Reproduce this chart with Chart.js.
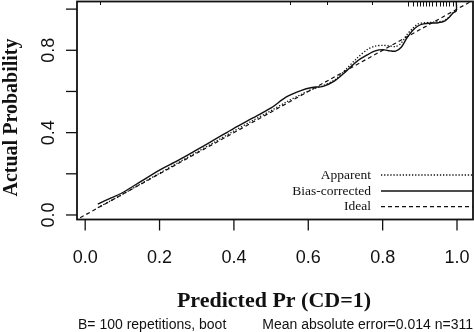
<!DOCTYPE html>
<html>
<head>
<meta charset="utf-8">
<script src="https://cdn.jsdelivr.net/npm/chart.js@4.4.0/dist/chart.umd.min.js"></script>
<style>
  html, body { margin: 0; padding: 0; background: #fff; }
</style>
</head>
<body>
<canvas id="calChart" width="474" height="332"></canvas>
<script>
// ---- data ----
const xTicks = [0, 0.2, 0.4, 0.6, 0.8, 1.0];
const xTickLabels = ['0.0', '0.2', '0.4', '0.6', '0.8', '1.0'];
const yTicks = [0, 0.2, 0.4, 0.6, 0.8, 1.0];
const yTickLabels = ['0.0', '', '0.4', '', '0.8', ''];

const seriesNames = ['Apparent', 'Bias-corrected', 'Ideal'];

const apparentX = [0.034, 0.07, 0.1, 0.15, 0.2, 0.25, 0.3, 0.35, 0.4, 0.45, 0.5, 0.54, 0.58, 0.61, 0.64, 0.67, 0.7, 0.73, 0.76, 0.78, 0.8, 0.82, 0.835, 0.85, 0.865, 0.88, 0.895, 0.91, 0.93, 0.95, 0.965, 0.98, 0.99, 0.998];
const apparentY = [0.036, 0.07, 0.1, 0.152, 0.203, 0.254, 0.305, 0.356, 0.408, 0.458, 0.507, 0.548, 0.585, 0.61, 0.628, 0.655, 0.705, 0.76, 0.805, 0.82, 0.824, 0.821, 0.818, 0.835, 0.875, 0.905, 0.928, 0.933, 0.936, 0.939, 0.944, 0.965, 0.985, 0.996];

const biasX = [0.034, 0.07, 0.1, 0.15, 0.2, 0.25, 0.3, 0.35, 0.4, 0.45, 0.5, 0.54, 0.58, 0.61, 0.64, 0.67, 0.7, 0.73, 0.76, 0.78, 0.8, 0.82, 0.835, 0.85, 0.865, 0.88, 0.895, 0.91, 0.93, 0.95, 0.965, 0.98, 0.99, 0.998, 0.998];
const biasY = [0.053, 0.083, 0.108, 0.163, 0.218, 0.265, 0.316, 0.368, 0.421, 0.47, 0.52, 0.572, 0.604, 0.619, 0.625, 0.65, 0.695, 0.745, 0.779, 0.797, 0.803, 0.797, 0.796, 0.815, 0.859, 0.895, 0.918, 0.928, 0.932, 0.934, 0.94, 0.962, 0.982, 0.992, 1.04];

const idealX = [-0.03, 1.05];
const idealY = [-0.03, 1.05];

// distribution of predicted probabilities (rug on top)
const rugX = [0.04, 0.551, 0.65, 0.771, 0.868, 0.882, 0.892, 0.9, 0.909, 0.917, 0.925, 0.934, 0.944, 0.953, 0.962, 0.97, 0.979, 0.989];

const subLeft = 'B= 100 repetitions, boot';
const subRight = 'Mean absolute error=0.014 n=311';

function toPoints(xs, ys) {
    return xs.map(function (x, i) { return { x: x, y: ys[i] }; });
}

const ink = '#111';
const serif = '"Liberation Serif", "Times New Roman", serif';
const sans = '"Liberation Sans", Arial, sans-serif';

// R style axes, box, legend and rug, placed through the chart scales
const rPlotDecor = {
    id: 'rPlotDecor',
    afterDraw: function (chart) {
        const ctx = chart.ctx;
        const area = chart.chartArea;
        const xs = chart.scales.x;
        const ys = chart.scales.y;
        ctx.save();
        ctx.strokeStyle = ink;
        ctx.fillStyle = ink;

        // box
        ctx.lineWidth = 1.8;
        ctx.setLineDash([]);
        ctx.strokeRect(area.left, area.top, area.right - area.left, area.bottom - area.top);

        // rug ticks along top
        ctx.lineWidth = 1;
        rugX.forEach(function (v) {
            const px = Math.round(xs.getPixelForValue(v)) + 0.5;
            ctx.beginPath();
            ctx.moveTo(px, area.top);
            ctx.lineTo(px, area.top + (v > 0.86 ? 5 : 3.5));
            ctx.stroke();
        });

        // x ticks + labels
        ctx.lineWidth = 1.3;
        ctx.font = '18px ' + sans;
        ctx.textAlign = 'center';
        ctx.textBaseline = 'alphabetic';
        xTicks.forEach(function (v, i) {
            const px = xs.getPixelForValue(v);
            ctx.beginPath();
            ctx.moveTo(px, area.bottom);
            ctx.lineTo(px, area.bottom + 11);
            ctx.stroke();
            ctx.fillText(xTickLabels[i], px, 263);
        });

        // y ticks + rotated labels
        yTicks.forEach(function (v, i) {
            const py = ys.getPixelForValue(v);
            ctx.beginPath();
            ctx.moveTo(area.left, py);
            ctx.lineTo(area.left - 11, py);
            ctx.stroke();
            if (yTickLabels[i]) {
                ctx.save();
                ctx.translate(53.5, py);
                ctx.rotate(-Math.PI / 2);
                ctx.fillText(yTickLabels[i], 0, 0);
                ctx.restore();
            }
        });

        // axis titles
        ctx.font = 'bold 22px ' + serif;
        ctx.fillText('Predicted Pr (CD=1)', 274, 306.5);
        ctx.save();
        ctx.font = 'bold 20px ' + serif;
        ctx.translate(17, 117.5);
        ctx.rotate(-Math.PI / 2);
        ctx.fillText('Actual Probability', 0, 0);
        ctx.restore();

        // subtitle line
        ctx.font = '14px ' + sans;
        ctx.textAlign = 'left';
        ctx.fillText(subLeft, 78, 328.5);
        ctx.textAlign = 'right';
        ctx.fillText(subRight, 473, 328.5);

        // legend
        const legendRows = [175, 191, 206.7];
        ctx.font = '13.5px ' + serif;
        chart.data.datasets.forEach(function (ds, i) {
            const ly = legendRows[i];
            ctx.textAlign = 'right';
            ctx.fillText(seriesNames[i], 371, ly + 3.5);
            ctx.beginPath();
            ctx.lineWidth = ds.borderWidth;
            ctx.setLineDash(ds.borderDash || []);
            ctx.moveTo(381, ly);
            ctx.lineTo(area.right, ly);
            ctx.stroke();
        });
        ctx.restore();
    }
};

const ctx = document.getElementById('calChart');
new Chart(ctx, {
    type: 'line',
    data: {
        datasets: [{
            label: seriesNames[0],
            data: toPoints(apparentX, apparentY),
            borderColor: ink,
            borderWidth: 1.3,
            borderDash: [1.3, 1.8],
            tension: 0.3
        }, {
            label: seriesNames[1],
            data: toPoints(biasX, biasY),
            borderColor: ink,
            borderWidth: 1.4,
            borderDash: [],
            tension: 0.3
        }, {
            label: seriesNames[2],
            data: toPoints(idealX, idealY),
            borderColor: ink,
            borderWidth: 1.2,
            borderDash: [4, 3],
            tension: 0
        }]
    },
    options: {
        responsive: false,
        animation: false,
        layout: { padding: { left: 77, right: 1, top: 1.5, bottom: 112.5 } },
        elements: { point: { radius: 0 } },
        plugins: {
            legend: { display: false },
            tooltip: { enabled: false }
        },
        scales: {
            x: { type: 'linear', min: -0.022, max: 1.043, display: false },
            y: { type: 'linear', min: -0.022, max: 1.037, display: false }
        }
    },
    plugins: [rPlotDecor]
});
</script>
</body>
</html>
